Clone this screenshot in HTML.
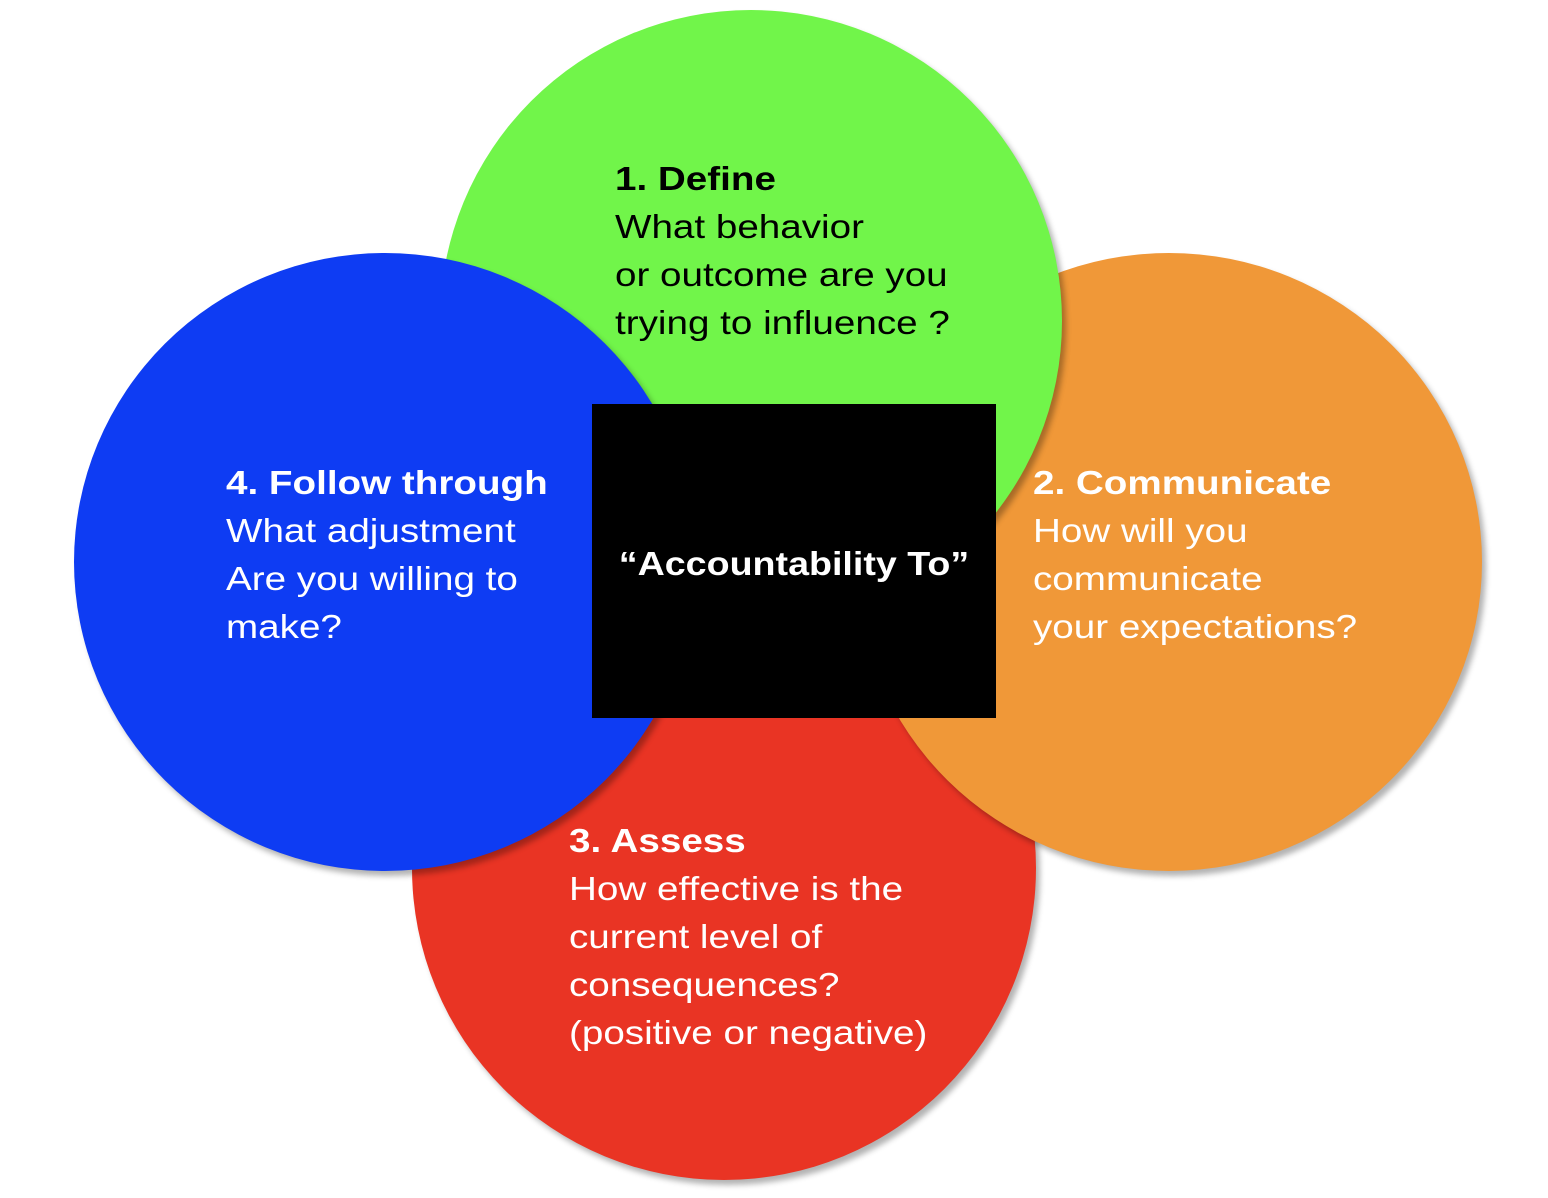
<!DOCTYPE html>
<html><head><style>
body{margin:0;width:1548px;height:1198px;background:#fff;overflow:hidden;position:relative;font-family:"Liberation Sans",sans-serif;}
.c{position:absolute;border-radius:50%;box-shadow:4px 5px 6px rgba(0,0,0,0.3);}
.t{position:absolute;font-size:33px;line-height:48px;white-space:nowrap;transform:scaleX(1.17);transform-origin:0 0;}
.t b{font-weight:bold;}
</style></head><body>
<div class="c" style="left:412px;top:556px;width:624px;height:624px;background:#e93424;"></div>
<div class="c" style="left:856px;top:253px;width:626px;height:618px;background:#f09838;"></div>
<div class="c" style="left:440px;top:10px;width:622px;height:622px;background:#71f54a;"></div>
<div class="c" style="left:74px;top:253px;width:622px;height:618px;background:#0e3cf3;"></div>
<div style="position:absolute;left:592px;top:404px;width:404px;height:314px;background:#000;"></div>
<div class="t" style="left:615px;top:155px;color:#000;"><b>1. Define</b><br>What behavior<br>or outcome are you<br>trying to influence ?</div>
<div class="t" style="left:1033px;top:459px;color:#fff;"><b>2. Communicate</b><br>How will you<br>communicate<br>your expectations?</div>
<div class="t" style="left:569px;top:817px;color:#fff;"><b>3. Assess</b><br>How effective is the<br>current level of<br>consequences?<br>(positive or negative)</div>
<div class="t" style="left:226px;top:459px;color:#fff;"><b>4. Follow through</b><br>What adjustment<br>Are you willing to<br>make?</div>
<div class="t" style="left:592px;top:540px;width:404px;text-align:center;color:#fff;transform:scaleX(1.14);transform-origin:202px 0;"><b>“Accountability To”</b></div>
</body></html>
